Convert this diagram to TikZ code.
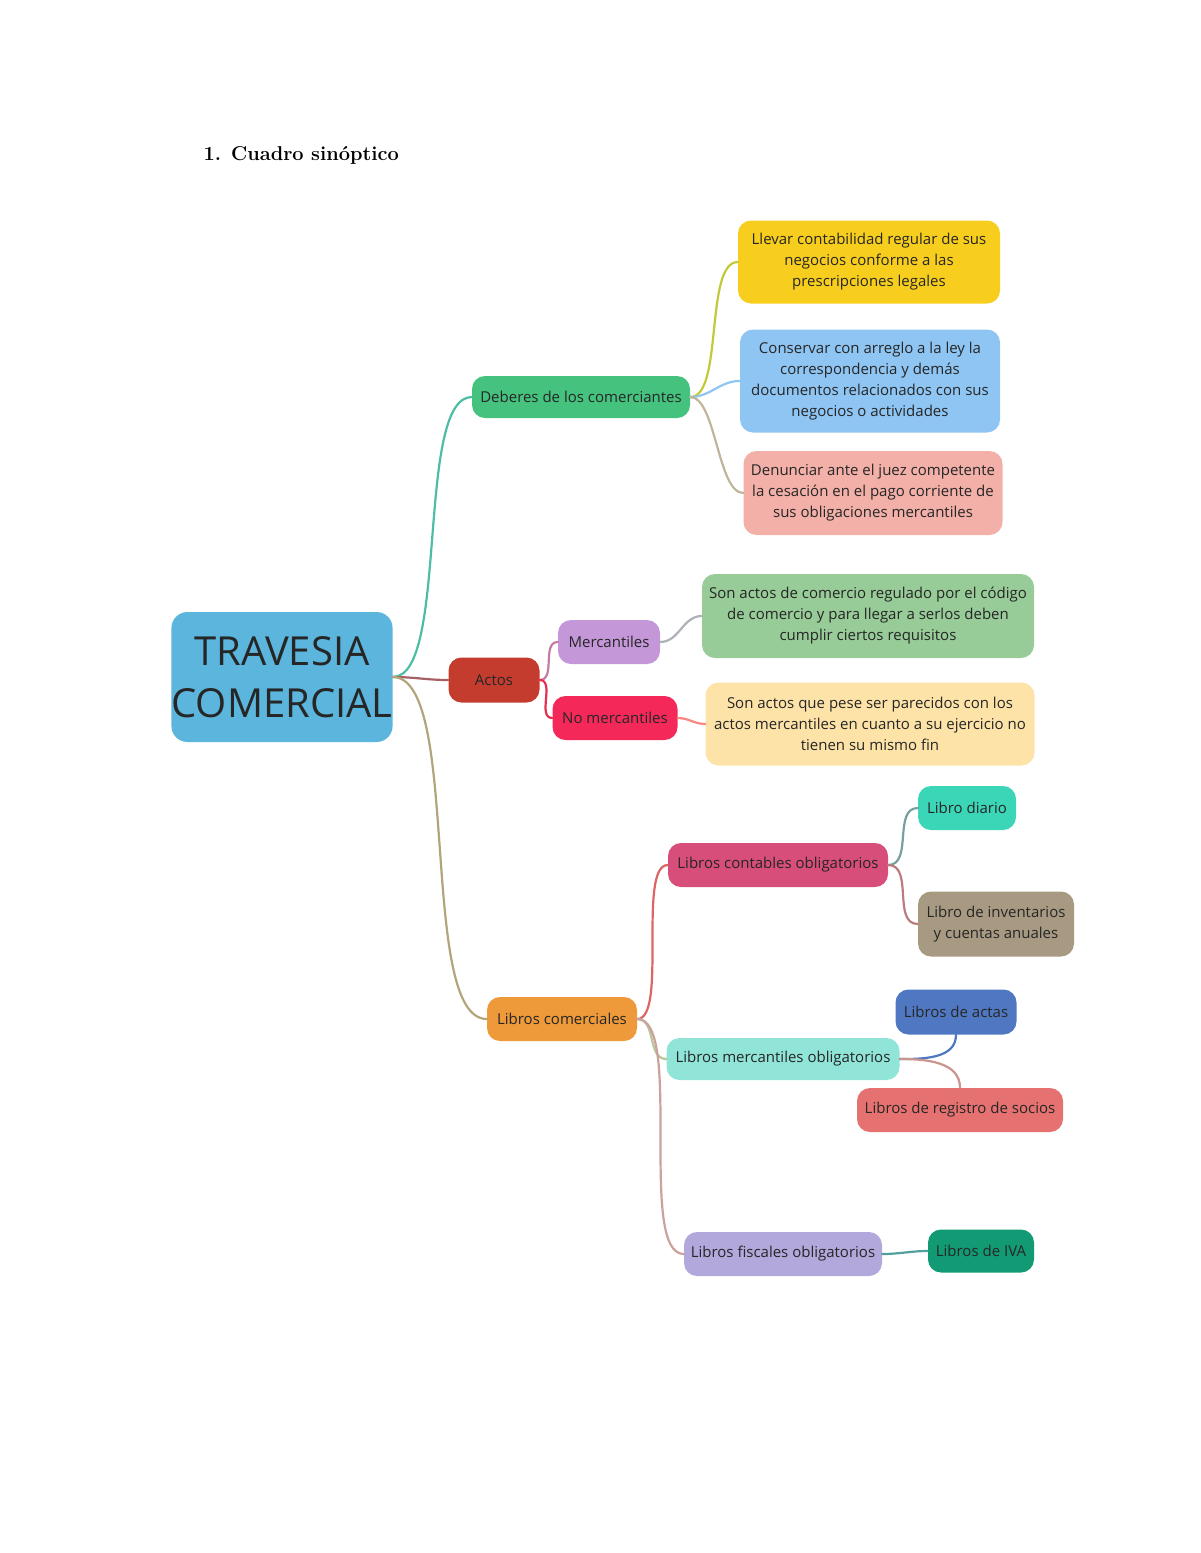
\documentclass[tikz,border=0pt]{standalone}
\usepackage{fontspec}
\setmainfont{Open Sans}
\newfontfamily\titlefont{Latin Modern Roman}
\begin{document}
\begin{tikzpicture}[x=1pt,y=-1pt,
 bx/.style={rounded corners=13pt,align=center,inner sep=0pt,text=black!85,font=\fontsize{15}{21}\selectfont},
 ln/.style={line width=2.2pt,line cap=round}]
\useasboundingbox (0,0) rectangle (1200,1553);
\definecolor{cRoot}{HTML}{5BB5DC}\definecolor{cDeb}{HTML}{45C27E}\definecolor{cAct}{HTML}{C43C2E}
\definecolor{cMer}{HTML}{C497D8}\definecolor{cNoM}{HTML}{F5285A}\definecolor{cLib}{HTML}{EE9A3A}
\definecolor{cLle}{HTML}{F8CE1E}\definecolor{cCon}{HTML}{8EC5F3}\definecolor{cDen}{HTML}{F2B0A8}
\definecolor{cS1}{HTML}{97CB97}\definecolor{cS2}{HTML}{FDE3A8}\definecolor{cLco}{HTML}{D64E79}
\definecolor{cDia}{HTML}{3BD6B8}\definecolor{cInv}{HTML}{A89A82}\definecolor{cLmo}{HTML}{90E5D8}
\definecolor{cAc}{HTML}{5078C2}\definecolor{cReg}{HTML}{E57170}\definecolor{cLfo}{HTML}{B3A8DB}
\definecolor{cIva}{HTML}{119A74}
\node[anchor=base west,font=\titlefont\bfseries\fontsize{20}{24}\selectfont] (title) at (200,160) {1.\hspace{10pt}Cuadro sinóptico};
\node[bx,fill=cRoot,minimum width=220,minimum height=130,rounded corners=16pt,font=\fontsize{40}{52}\selectfont] (root) at (282,677) {TRAVESIA\\COMERCIAL};
\node[bx,fill=cDeb,minimum width=218,minimum height=42] (deb) at (581,397) {Deberes de los comerciantes};
\node[bx,fill=cAct,minimum width=91,minimum height=45] (act) at (494,680) {Actos};
\node[bx,fill=cMer,minimum width=102,minimum height=44] (mer) at (609,642) {Mercantiles};
\node[bx,fill=cNoM,minimum width=125,minimum height=44] (nom) at (615,718) {No mercantiles};
\node[bx,fill=cLib,minimum width=150,minimum height=44] (lib) at (562,1019) {Libros comerciales};
\node[bx,fill=cLle,minimum width=262,minimum height=83] (lle) at (869,262) {Llevar contabilidad regular de sus\\negocios conforme a las\\prescripciones legales};
\node[bx,fill=cCon,minimum width=260,minimum height=103] (con) at (870,381) {Conservar con arreglo a la ley la\\correspondencia y demás\\documentos relacionados con sus\\negocios o actividades};
\node[bx,fill=cDen,minimum width=259,minimum height=84] (den) at (873,493) {Denunciar ante el juez competente\\la cesación en el pago corriente de\\sus obligaciones mercantiles};
\node[bx,fill=cS1,minimum width=332,minimum height=84] (s1) at (868,616) {Son actos de comercio regulado por el código\\de comercio y para llegar a serlos deben\\cumplir ciertos requisitos};
\node[bx,fill=cS2,minimum width=329,minimum height=83] (s2) at (870,724) {Son actos que pese ser parecidos con los\\actos mercantiles en cuanto a su ejercicio no\\tienen su mismo fin};
\node[bx,fill=cLco,minimum width=220,minimum height=44] (lco) at (778,865) {Libros contables obligatorios};
\node[bx,fill=cDia,minimum width=98,minimum height=44] (dia) at (967,808) {Libro diario};
\node[bx,fill=cInv,minimum width=156,minimum height=65] (inv) at (996,924) {Libro de inventarios\\y cuentas anuales};
\node[bx,fill=cLmo,minimum width=233,minimum height=42] (lmo) at (783,1059) {Libros mercantiles obligatorios};
\node[bx,fill=cAc,minimum width=121,minimum height=45] (lac) at (956,1012) {Libros de actas};
\node[bx,fill=cReg,minimum width=206,minimum height=44] (reg) at (960,1110) {Libros de registro de socios};
\node[bx,fill=cLfo,minimum width=198,minimum height=44] (lfo) at (783,1254) {Libros fiscales obligatorios};
\node[bx,fill=cIva,minimum width=106,minimum height=43] (iva) at (981,1251) {Libros de IVA};
\begin{scope}[on background layer/.style={}]
\end{scope}
\begin{scope}[ln]
\draw[cDeb!60!cRoot] (root.east) to[out=0,in=180,looseness=0.5] (deb.west);
\draw[cAct!70!cRoot] (root.east) to[out=0,in=180] (act.west);
\draw[cLib!60!cRoot] (root.east) to[out=0,in=180,looseness=0.5] (lib.west);
\draw[cLle!70!cDeb] (deb.east) to[out=0,in=180,looseness=0.6] (lle.west);
\draw[cCon] (deb.east) to[out=0,in=180] (con.west);
\draw[cDen!70!cDeb] (deb.east) to[out=0,in=180,looseness=0.6] (den.west);
\draw[cMer!70!cAct] (act.east) to[out=0,in=180] (mer.west);
\draw[cNoM!70!cAct] (act.east) to[out=0,in=180] (nom.west);
\draw[cS1!50!cMer] (mer.east) to[out=0,in=180] (s1.west);
\draw[cS2!50!cNoM] (nom.east) to[out=0,in=180] (s2.west);
\draw[cLco!70!cLib] (lib.east) to[out=0,in=180,looseness=0.5] (lco.west);
\draw[cLmo!60!cLib] (lib.east) to[out=0,in=180] (lmo.west);
\draw[cLfo!60!cLib] (lib.east) to[out=0,in=180,looseness=0.5] (lfo.west);
\draw[cDia!60!cLco] (lco.east) to[out=0,in=180] (dia.west);
\draw[cInv!60!cLco] (lco.east) to[out=0,in=180] (inv.west);
\draw[cAc] (lmo.east) to[out=0,in=270] (lac.south);
\draw[cReg!70!cLmo] (lmo.east) to[out=0,in=90] (reg.north);
\draw[cIva!60!cLfo] (lfo.east) to[out=0,in=180] (iva.west);
\end{scope}
\foreach \n in {root,deb,act,mer,nom,lib,lle,con,den,s1,s2,lco,dia,inv,lmo,lac,reg,lfo,iva}{}
\end{tikzpicture}
\end{document}
